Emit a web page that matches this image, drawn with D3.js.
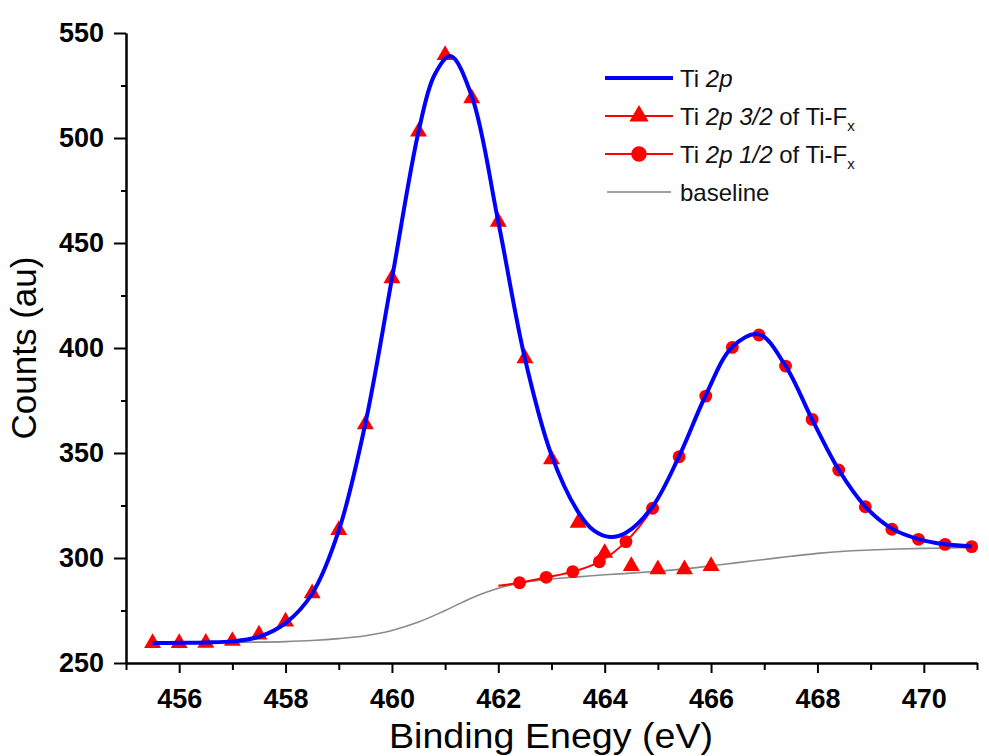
<!DOCTYPE html>
<meta charset="utf-8">
<script src="https://d3js.org/d3.v7.min.js"></script>
<style>
  body { margin: 0; background: #fff; }
  text { font-family: "Liberation Sans", Arial, sans-serif; }
</style>
<div id="chart"></div>
<script>

// ---- data ----
// overall fit (Ti 2p envelope)
var totalEnergy = [455.5, 456, 456.5, 457, 457.5, 458, 458.5, 459, 459.5, 460, 460.5, 460.8, 461.1, 461.5, 462, 462.5, 463, 463.5, 463.8, 464.1, 464.4, 464.9, 465.4, 465.9, 466.4, 466.9, 467.4, 467.9, 468.4, 468.9, 469.4, 469.9, 470.4, 470.9];
var totalCounts = [259.5, 259.6, 259.8, 260.3, 262.5, 269, 283, 313, 364, 433, 503, 530, 539, 520, 460, 395, 349, 322, 313, 310, 312, 324.5, 348.5, 377.5, 400.5, 406.5, 391.5, 366, 342, 324.5, 314, 309, 306.5, 305.5];

// Ti 2p 3/2 of Ti-Fx (triangles)
var p32Energy = [455.5, 456, 456.5, 457, 457.5, 458, 458.5, 459, 459.5, 460, 460.5, 461, 461.5, 462, 462.5, 463, 463.5, 464, 464.5, 465, 465.5, 466];
var p32Counts = [259.5, 259.5, 259.6, 260.5, 263.5, 269.7, 283.2, 313.3, 363.7, 433.2, 503, 539.5, 518.9, 460.1, 395.1, 347, 316.7, 302.4, 296.2, 294.6, 294.6, 296.2];

// Ti 2p 1/2 of Ti-Fx (circles); fitted line starts a bit before first marker
var p12LineStart = [462.0, 286.8];
var p12Energy = [462.4, 462.9, 463.4, 463.9, 464.4, 464.9, 465.4, 465.9, 466.4, 466.9, 467.4, 467.9, 468.4, 468.9, 469.4, 469.9, 470.4, 470.9];
var p12Counts = [288.2, 290.8, 293.5, 298.2, 307.8, 323.7, 348.2, 377.1, 400.3, 406.2, 391.4, 366, 341.9, 324.4, 313.7, 308.9, 306.5, 305.4];

// baseline
var baseEnergy = [455.5, 456, 457, 458, 458.5, 459, 459.5, 460, 460.5, 461, 461.5, 462, 462.5, 463, 463.5, 464, 464.5, 465, 465.5, 466, 466.5, 467, 467.5, 468, 468.5, 469, 469.5, 470, 470.5, 470.9];
var baseCounts = [259.5, 259.6, 259.8, 260.2, 260.7, 261.6, 263, 265.5, 269.5, 275, 281, 285.6, 288.5, 290, 291, 292, 292.8, 293.7, 294.8, 296.3, 297.8, 299.3, 300.8, 302.2, 303.2, 303.8, 304.3, 304.6, 304.8, 305];

// axis ticks
var xMajor = [456, 458, 460, 462, 464, 466, 468, 470];
var xMinor = [455, 457, 459, 461, 463, 465, 467, 469, 471];
var yMajor = [250, 300, 350, 400, 450, 500, 550];
var yMinor = [275, 325, 375, 425, 475, 525];

// ---- svg ----
var W = 989, H = 756;
var svg = d3.select("#chart").append("svg")
    .attr("width", W)
    .attr("height", H);

var x = d3.scaleLinear().domain([455, 471]).range([126, 977]);
var y = d3.scaleLinear().domain([250, 550]).range([663, 33]);

function zip(a, b) { return a.map(function(v, i) { return [v, b[i]]; }); }

var line = d3.line()
    .x(function(d) { return x(d[0]); })
    .y(function(d) { return y(d[1]); })
    .curve(d3.curveCatmullRom.alpha(0.5));

// baseline
svg.append("path")
    .attr("d", line(zip(baseEnergy, baseCounts)))
    .attr("fill", "none")
    .attr("stroke", "#8a8a8a")
    .attr("stroke-width", 1.6);

// 1/2 component line
svg.append("path")
    .attr("d", line([p12LineStart].concat(zip(p12Energy, p12Counts))))
    .attr("fill", "none")
    .attr("stroke", "#ff0000")
    .attr("stroke-width", 2);

// markers
var tri = d3.symbol().type(d3.symbolTriangle).size(125);
var dot = d3.symbol().type(d3.symbolCircle).size(130);

svg.append("g").selectAll("path")
    .data(zip(p32Energy, p32Counts))
    .join("path")
    .attr("d", tri)
    .attr("transform", function(d) { return "translate(" + x(d[0]) + "," + y(d[1]) + ")"; })
    .attr("fill", "#ff0000");

svg.append("g").selectAll("path")
    .data(zip(p12Energy, p12Counts))
    .join("path")
    .attr("d", dot)
    .attr("transform", function(d) { return "translate(" + x(d[0]) + "," + y(d[1]) + ")"; })
    .attr("fill", "#ff0000");

// total envelope on top
svg.append("path")
    .attr("d", line(zip(totalEnergy, totalCounts)))
    .attr("fill", "none")
    .attr("stroke", "#0000ff")
    .attr("stroke-width", 4);

// ---- axes ----
function styleAxis(g) {
    g.selectAll("path, line").attr("stroke", "#000").attr("stroke-width", 2);
    g.selectAll("text")
        .attr("fill", "#000")
        .style("font-size", "27px")
        .style("font-weight", "bold");
}

svg.append("g")
    .attr("transform", "translate(0,663)")
    .call(d3.axisBottom(x).tickValues(xMinor).tickSize(7).tickSizeOuter(0).tickFormat(""))
    .call(styleAxis);
svg.append("g")
    .attr("transform", "translate(0,663)")
    .call(d3.axisBottom(x).tickValues(xMajor).tickSize(10).tickSizeOuter(0).tickPadding(16))
    .call(styleAxis);

svg.append("g")
    .attr("transform", "translate(126,0)")
    .call(d3.axisLeft(y).tickValues(yMinor).tickSize(5).tickSizeOuter(0).tickFormat(""))
    .call(styleAxis);
svg.append("g")
    .attr("transform", "translate(126,0)")
    .call(d3.axisLeft(y).tickValues(yMajor).tickSize(12).tickSizeOuter(0).tickPadding(10))
    .call(styleAxis);

// axis titles
svg.append("text")
    .attr("x", 551)
    .attr("y", 748)
    .attr("text-anchor", "middle")
    .style("font-size", "35px")
    .attr("textLength", 324)
    .attr("lengthAdjust", "spacingAndGlyphs")
    .text("Binding Enegy (eV)");

svg.append("text")
    .attr("transform", "translate(36,348) rotate(-90)")
    .attr("text-anchor", "middle")
    .style("font-size", "35px")
    .text("Counts (au)");

// ---- legend ----
var legend = svg.append("g").attr("transform", "translate(605,0)");
var rows = [78, 116, 154, 192];

legend.append("line").attr("x1", 0).attr("x2", 68).attr("y1", rows[0]).attr("y2", rows[0])
    .attr("stroke", "#0000ff").attr("stroke-width", 4);
legend.append("line").attr("x1", 0).attr("x2", 68).attr("y1", rows[1]).attr("y2", rows[1])
    .attr("stroke", "#ff0000").attr("stroke-width", 2);
legend.append("path").attr("d", d3.symbol().type(d3.symbolTriangle).size(160))
    .attr("transform", "translate(34," + rows[1] + ")").attr("fill", "#ff0000");
legend.append("line").attr("x1", 0).attr("x2", 68).attr("y1", rows[2]).attr("y2", rows[2])
    .attr("stroke", "#ff0000").attr("stroke-width", 2);
legend.append("path").attr("d", d3.symbol().type(d3.symbolCircle).size(190))
    .attr("transform", "translate(34," + rows[2] + ")").attr("fill", "#ff0000");
legend.append("line").attr("x1", 2).attr("x2", 66).attr("y1", rows[3]).attr("y2", rows[3])
    .attr("stroke", "#a0a0a0").attr("stroke-width", 2);

var labels = [
    [["Ti ", false], ["2p", true]],
    [["Ti ", false], ["2p 3/2", true], [" of Ti-F", false], ["x", false, true]],
    [["Ti ", false], ["2p 1/2", true], [" of Ti-F", false], ["x", false, true]],
    [["baseline", false]]
];

labels.forEach(function(parts, i) {
    var t = legend.append("text")
        .attr("x", 75)
        .attr("y", rows[i] + 8.5)
        .style("font-size", "24px")
        .attr("fill", "#111");
    parts.forEach(function(p) {
        var s = t.append("tspan").text(p[0]);
        if (p[1]) s.style("font-style", "italic");
        if (p[2]) s.attr("dy", 6).style("font-size", "15px");
    });
});

</script>
